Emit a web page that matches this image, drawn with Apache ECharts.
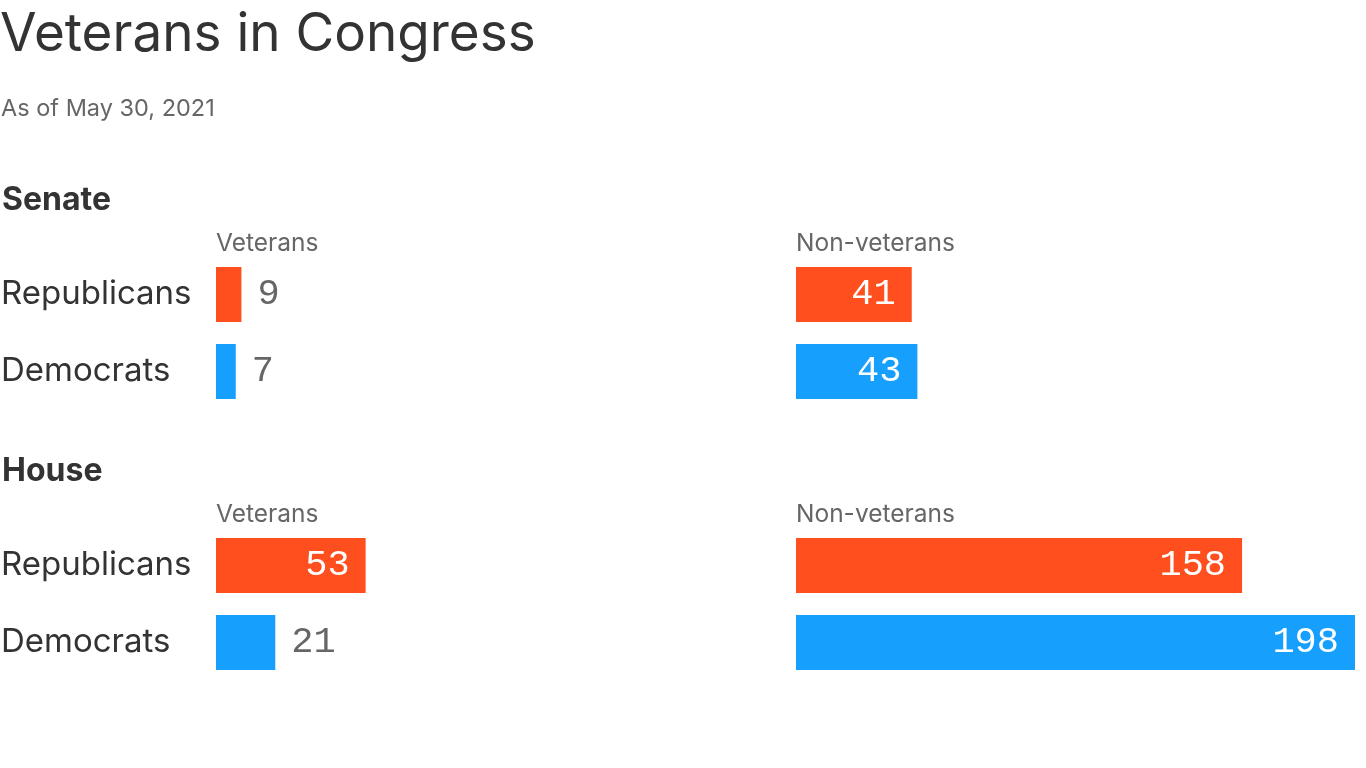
<!DOCTYPE html>
<html>
<head>
<meta charset="utf-8">
<title>Veterans in Congress</title>
<script src="https://cdn.jsdelivr.net/npm/echarts@6/dist/echarts.min.js"></script>
<style>
  html, body { margin: 0; padding: 0; background: #fff; }
  #chart { width: 1366px; height: 768px; }
</style>
</head>
<body>
<div id="chart"></div>
<script>
// data
var parties = ['Republicans', 'Democrats'];
var partyColors = ['#ff4f1f', '#179ffe'];
var senateVeterans = [9, 7];
var senateNonVeterans = [41, 43];
var houseVeterans = [53, 21];
var houseNonVeterans = [158, 198];

var maxValue = Math.max.apply(null, [].concat(senateVeterans, senateNonVeterans, houseVeterans, houseNonVeterans));
var textFont = 'Inter, "Noto Sans", sans-serif';
var numFont = '"Liberation Mono", monospace';

function barData(values) {
	var out = [];
	for (var i = 0; i < values.length; i++) {
		var inside = values[i] > 30;
		out.push({
			value: values[i],
			itemStyle: { color: partyColors[i] },
			label: {
				show: true,
				position: inside ? 'insideRight' : 'right',
				distance: 16,
				color: inside ? '#fff' : '#666',
				fontFamily: numFont,
				fontSize: 37
			}
		});
	}
	return out;
}

var grids = [
	{ left: 216, top: 256, width: 559, height: 154 },
	{ left: 796, top: 256, width: 559, height: 154 },
	{ left: 216, top: 527, width: 559, height: 154 },
	{ left: 796, top: 527, width: 559, height: 154 }
];
for (var k = 0; k < grids.length; k++) {
	grids[k].containLabel = false;
	grids[k].outerBoundsMode = 'none';
}
var seriesValues = [senateVeterans, senateNonVeterans, houseVeterans, houseNonVeterans];

var xAxes = [], yAxes = [], series = [];
for (var g = 0; g < grids.length; g++) {
	xAxes.push({
		type: 'value', gridIndex: g, min: 0, max: maxValue,
		show: false
	});
	yAxes.push({
		type: 'category', gridIndex: g, data: parties, inverse: true,
		axisLine: { show: false }, axisTick: { show: false }, splitLine: { show: false },
		axisLabel: {
			show: g % 2 == 0,
			align: 'left',
			margin: 215,
			color: '#333',
			fontFamily: textFont,
			fontSize: 33
		}
	});
	series.push({
		type: 'bar', xAxisIndex: g, yAxisIndex: g,
		barWidth: 55,
		silent: true,
		data: barData(seriesValues[g])
	});
}

function heading(text, left, top, size, color, weight) {
	return {
		text: text, left: left, top: top, padding: 0,
		textStyle: { fontFamily: textFont, fontSize: size, color: color, fontWeight: weight }
	};
}

var option = {
	animation: false,
	title: [
		heading('Veterans in Congress', 0, 9, 53, '#333', 'normal'),
		heading('As of May 30, 2021', 1, 97, 23.5, '#666', 'normal'),
		heading('Senate', 2, 184, 32, '#333', 'bold'),
		heading('Veterans', 216, 231, 24.5, '#666', 'normal'),
		heading('Non-veterans', 796, 231, 24.5, '#666', 'normal'),
		heading('House', 2, 455, 32, '#333', 'bold'),
		heading('Veterans', 216, 502, 24.5, '#666', 'normal'),
		heading('Non-veterans', 796, 502, 24.5, '#666', 'normal')
	],
	grid: grids,
	xAxis: xAxes,
	yAxis: yAxes,
	series: series
};

var myChart = echarts.init(document.getElementById('chart'));
myChart.setOption(option);
</script>
</body>
</html>
